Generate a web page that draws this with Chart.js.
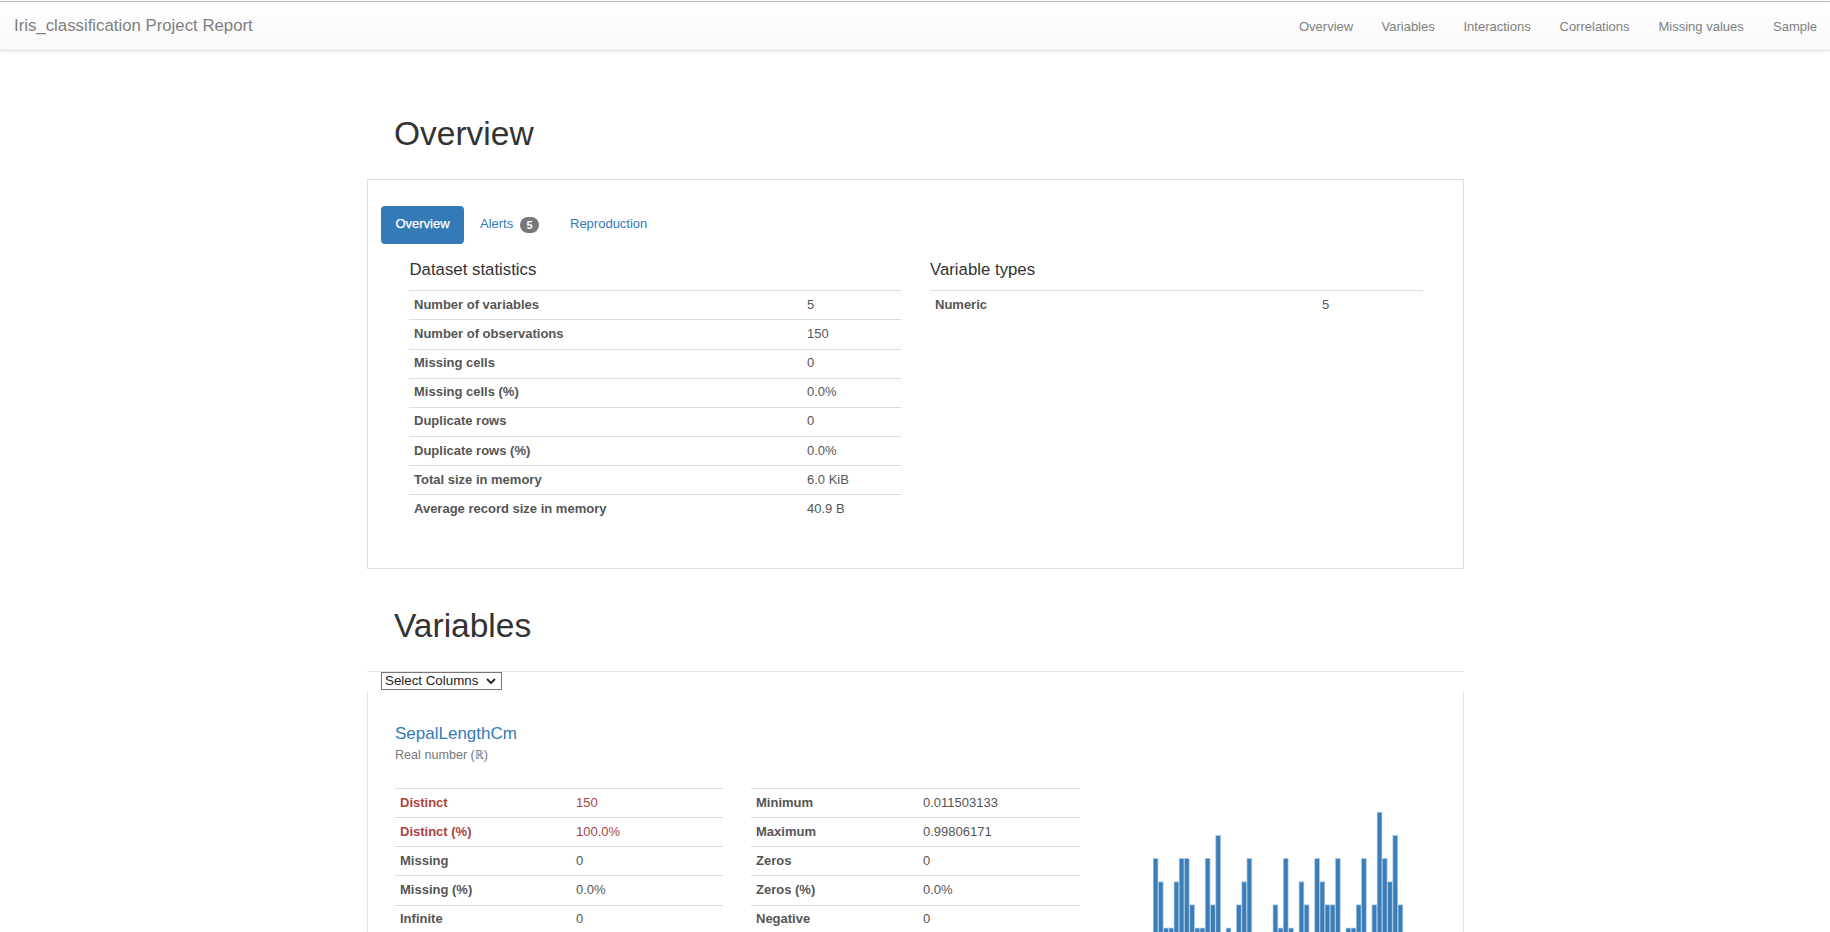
<!DOCTYPE html>
<html>
<head>
<meta charset="utf-8">
<title>Iris_classification Project Report</title>
<script src="https://cdn.jsdelivr.net/npm/chart.js@4"></script>
<style>
html, body { margin: 0; padding: 0; height: 932px; overflow: hidden; background: #fff; }
body { position: relative; font-family: "Liberation Sans", Arial, sans-serif; font-size: 13px; color: #555; }
.abs { position: absolute; white-space: nowrap; }
#nav { position: absolute; left: 0; top: 1px; width: 1830px; height: 48px; border-top: 1px solid #bbb; border-bottom: 1px solid #e7e7e7;
  background: linear-gradient(to bottom, #fff 0, #f8f8f8 100%); box-shadow: 0 1px 3px rgba(0,0,0,.07); }
#brand { left: 14px; top: 14px; font-size: 16.8px; line-height: 20px; color: #808080; }
.navlink { top: 15px; line-height: 20px; color: #808080; }
h1 { position: absolute; margin: 0; font-size: 33.5px; font-weight: 400; line-height: 40px; color: #333; }
h2 { position: absolute; margin: 0; font-size: 16.8px; font-weight: 400; line-height: 18px; color: #333; }
.panel { position: absolute; border: 1px solid #e0e0e0; box-sizing: border-box; }
.tab { line-height: 20px; color: #337ab7; }
#tabOn { position: absolute; left: 381px; top: 206px; width: 83px; height: 38px; background: #337ab7; border-radius: 4px; color: #fff; text-align: center; line-height: 35px; -webkit-text-stroke: 0.25px #fff; }
#badge { position: absolute; left: 520px; top: 217px; width: 19px; height: 16px; border-radius: 8px; background: #777; color: #fff; font-size: 11px; font-weight: 700; text-align: center; line-height: 16px; }
.tbl { position: absolute; border-top: 1px solid #ddd; box-sizing: border-box; }
.rule { position: absolute; left: 0; right: 0; height: 1px; background: #ddd; }
.cell { position: absolute; white-space: nowrap; line-height: 28px; }
.alert { color: #a94442; }
.varlink { color: #337ab7; }
#sel { position: absolute; left: 381px; top: 672px; width: 121px; height: 18px; box-sizing: border-box; border: 1px solid #767676; background: #fff; color: #222;
  font-size: 13.33px; line-height: 15px; padding-left: 3px; }
#chart { position: absolute; left: 1153px; top: 789px; }
</style>
</head>
<body>
<div id="nav">
  <div class="abs" id="brand">Iris_classification Project Report</div>
</div>

<h1 style="left:394px;top:114px">Overview</h1>
<div class="panel" style="left:367px;top:179px;width:1097px;height:390px"></div>
<div id="tabOn">Overview</div>
<div class="abs tab" style="left:480px;top:214px">Alerts</div>
<div id="badge">5</div>
<div class="abs tab" style="left:570px;top:214px">Reproduction</div>
<h2 style="left:409.5px;top:261px">Dataset statistics</h2>
<h2 style="left:930px;top:261px">Variable types</h2>

<h1 style="left:394px;top:606px">Variables</h1>
<div class="abs" style="left:367px;top:671px;width:1097px;height:1px;background:#e6e6e6"></div>
<div id="sel">Select Columns</div>
<svg class="abs" style="left:486px;top:678px" width="11" height="7"><path d="M1 1 L5 5 L9 1" fill="none" stroke="#222" stroke-width="1.8"/></svg>
<div class="abs" style="left:367px;top:691px;width:1px;height:241px;background:#e6e6e6"></div>
<div class="abs" style="left:1463px;top:691px;width:1px;height:241px;background:#e6e6e6"></div>
<div class="abs varlink" style="left:395px;top:725px;font-size:17px;line-height:18px">SepalLengthCm</div>
<div class="abs" style="left:395px;top:748px;font-size:12.6px;line-height:14px;color:#777">Real number (ℝ)</div>

<canvas id="chart" width="250" height="185"></canvas>

<script>
const navLabels = ["Overview", "Variables", "Interactions", "Correlations", "Missing values", "Sample"];
const navLefts = [1299, 1381.5, 1463.5, 1559.5, 1658.5, 1773];

const datasetLabels = ["Number of variables", "Number of observations", "Missing cells", "Missing cells (%)", "Duplicate rows", "Duplicate rows (%)", "Total size in memory", "Average record size in memory"];
const datasetValues = ["5", "150", "0", "0.0%", "0", "0.0%", "6.0 KiB", "40.9 B"];
const typeLabels = ["Numeric"];
const typeValues = ["5"];
const varLeftLabels = ["Distinct", "Distinct (%)", "Missing", "Missing (%)", "Infinite"];
const varLeftValues = ["150", "100.0%", "0", "0.0%", "0"];
const varRightLabels = ["Minimum", "Maximum", "Zeros", "Zeros (%)", "Negative"];
const varRightValues = ["0.011503133", "0.99806171", "0", "0.0%", "0"];

// histogram of SepalLengthCm, baseline sits below the fold like in the report
const binLabels = ["b1","b2","b3","b4","b5","b6","b7","b8","b9","b10","b11","b12","b13","b14","b15","b16","b17","b18","b19","b20","b21","b22","b23","b24","b25","b26","b27","b28","b29","b30","b31","b32","b33","b34","b35","b36","b37","b38","b39","b40","b41","b42","b43","b44","b45","b46","b47","b48"];
const binCounts = [5,4,2,2,4,5,5,3,2,2,5,3,6,1,2,1,3,4,5,1,1,1,0,3,2,5,2,1,4,3,1,5,4,3,3,5,1,2,2,3,5,1,3,7,5,4,6,3];

// row offsets inside the tables, they don't step evenly in the report
const datasetRuleTops = [29, 59, 88, 117, 146, 175, 204];
const datasetTextTops = [0, 29, 58, 87, 116, 146, 175, 204];
const varRuleTops = [29, 58, 87, 117];
const varTextTops = [0, 29, 58, 87, 116];

navLabels.forEach((label, i) => {
  const a = document.createElement("div");
  a.className = "abs navlink";
  a.style.left = navLefts[i] + "px";
  a.textContent = label;
  document.getElementById("nav").appendChild(a);
});

function addTable(left, top, width, valueX, labels, values, alertRows, ruleTops, textTops) {
  const t = document.createElement("div");
  t.className = "tbl";
  t.style.cssText = `left:${left}px;top:${top}px;width:${width}px;height:1px`;
  ruleTops.forEach((y) => {
    const r = document.createElement("div");
    r.className = "rule";
    r.style.top = y - 1 + "px";
    t.appendChild(r);
  });
  labels.forEach((label, i) => {
    const name = document.createElement("b");
    const value = document.createElement("span");
    name.className = value.className = "cell" + (alertRows > i ? " alert" : "");
    name.style.cssText = `left:5px;top:${textTops[i]}px`;
    value.style.cssText = `left:${valueX}px;top:${textTops[i]}px`;
    name.textContent = label;
    value.textContent = values[i];
    t.append(name, value);
  });
  document.body.appendChild(t);
}

addTable(409, 290, 492, 398, datasetLabels, datasetValues, 0, datasetRuleTops, datasetTextTops);
addTable(930, 290, 493, 392, typeLabels, typeValues, 0, [], [0]);
addTable(395, 788, 328, 181, varLeftLabels, varLeftValues, 2, varRuleTops, varTextTops);
addTable(751, 788, 329, 172, varRightLabels, varRightValues, 0, varRuleTops, varTextTops);

new Chart(document.getElementById("chart"), {
  type: "bar",
  data: {
    labels: binLabels,
    datasets: [{
      data: binCounts,
      backgroundColor: "#3a7db8",
      borderColor: "#a8c6e0",
      borderWidth: 1,
      borderSkipped: false,
      barPercentage: 1,
      categoryPercentage: 1,
    }],
  },
  options: {
    responsive: false,
    animation: false,
    layout: { padding: 0 },
    plugins: { legend: { display: false }, tooltip: { enabled: false } },
    scales: {
      x: { display: false },
      y: { display: false, min: 0, max: 8 },
    },
  },
});
</script>
</body>
</html>
